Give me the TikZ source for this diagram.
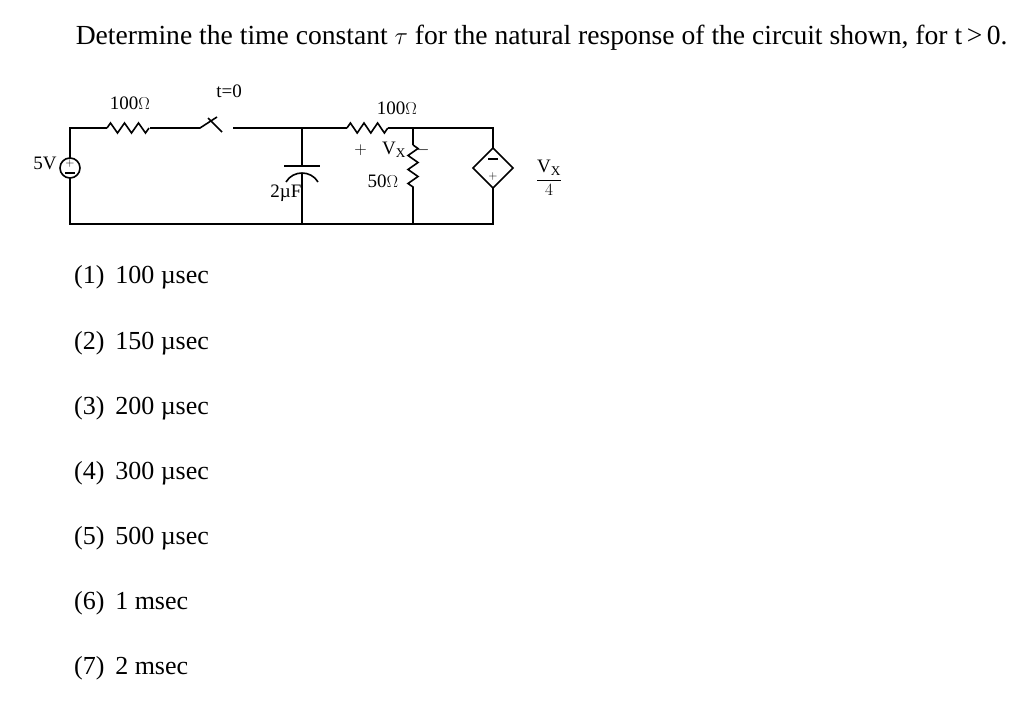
\documentclass[tikz,border=0pt]{standalone}
\usepackage{fontspec}
\setmainfont{Liberation Serif}
\begin{document}
\begin{tikzpicture}[x=1pt,y=-1pt,line width=1.6pt,
  opt/.style={anchor=base west,font=\fontsize{26}{30}\selectfont},
  lab/.style={font=\fontsize{19}{22}\selectfont,inner sep=1pt}]
\useasboundingbox (0,0) rectangle (1032,706);
\node[anchor=base west,font=\fontsize{27.6}{32}\selectfont,inner sep=0pt] (title) at (75,45) {Determine the time constant $\tau$ for the natural response of the circuit shown, for t\,>\,0.};
% wires
\draw (70,158) -- (70,128) -- (107,128);
\draw (107,128) -- ++(3.5,-5)--++(7,10)--++(7,-10)--++(7,10)--++(7,-10)--++(7,10)--++(3.5,-5);
\draw (150,128) -- (200,128) -- (217,117);
\draw (208,118) -- (222,132);
\draw (233,128) -- (347,128);
\draw (347,128) -- ++(3.4,-5)--++(6.8,10)--++(6.8,-10)--++(6.8,10)--++(6.8,-10)--++(6.8,10)--++(3.4,-5);
\draw (388,128) -- (493,128) -- (493,148);
\draw (413,128) -- (413,145);
\draw (413,145) -- ++(5,3.5)--++(-10,7)--++(10,7)--++(-10,7)--++(10,7)--++(-10,7)--++(5,3.5) -- (413,224);
\draw (70,178) -- (70,224) -- (493,224) -- (493,188);
% capacitor
\draw (302,128) -- (302,166);
\draw (284,166) -- (320,166);
\draw (286,182) .. controls (293,170) and (311,170) .. (318,182);
\draw (302,173) -- (302,224);
% source
\draw (70,168) circle (10);
\node[font=\fontsize{13}{13}\selectfont,inner sep=0pt] (sp) at (70,163) {$+$};
\draw (65,173) -- (75,173);
% diamond
\draw (493,148) -- (513,168) -- (493,188) -- (473,168) -- cycle;
\draw (488,159) -- (498,159);
\node[font=\fontsize{13}{13}\selectfont,inner sep=0pt] (dp) at (493,176) {$+$};
% labels
\node[lab] (l1) at (130,103) {100$\Omega$};
\node[lab] (l2) at (229,91) {t=0};
\node[lab] (l3) at (397,108) {100$\Omega$};
\node[lab] (l4) at (45,163) {5V};
\node[lab] (l5) at (286,193) {2µF};
\node[lab] (l6) at (383,181) {50$\Omega$};
\node[lab] (l7) at (392,150) {$+$\;\; V$_\mathrm{X}$\; $-$};
\node[lab] (l8) at (549,178) {$\displaystyle\frac{\mathrm{V_X}}{4}$};
% options
\node[opt] (o1) at (70,283) {(1)\, 100 µsec};
\node[opt] (o2) at (70,349) {(2)\, 150 µsec};
\node[opt] (o3) at (70,414) {(3)\, 200 µsec};
\node[opt] (o4) at (70,479) {(4)\, 300 µsec};
\node[opt] (o5) at (70,544) {(5)\, 500 µsec};
\node[opt] (o6) at (70,609) {(6)\, 1 msec};
\node[opt] (o7) at (70,674) {(7)\, 2 msec};
\end{tikzpicture}
\end{document}
